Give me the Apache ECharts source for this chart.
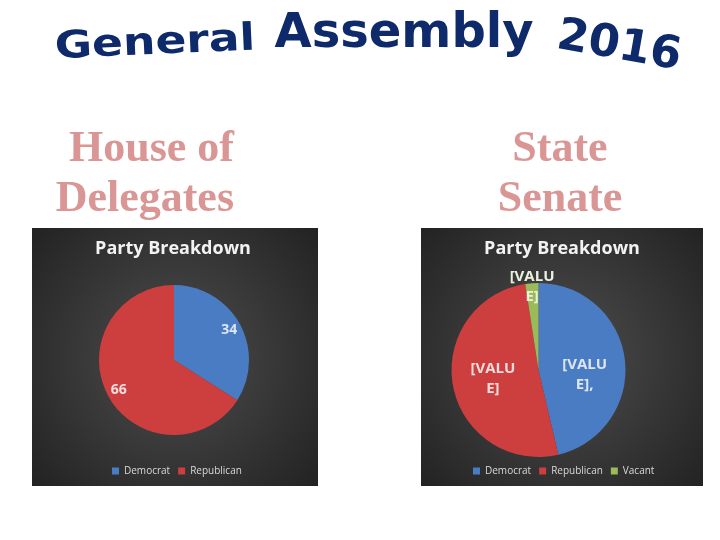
<!DOCTYPE html>
<html>
<head>
<meta charset="utf-8">
<script src="https://cdn.jsdelivr.net/npm/echarts@6/dist/echarts.min.js"></script>
<style>html,body{margin:0;padding:0;background:#fff}#c{width:720px;height:540px}</style>
</head>
<body>
<div id="c"></div>
<script>
// ---- data ----
const houseCategories = ['Democrat', 'Republican'];
const houseValues = [34, 66];
const senateCategories = ['Democrat', 'Republican', 'Vacant'];
const senateValues = [19, 21, 1];
const senateLabels = ['[VALU\nE],', '[VALU\nE]', '[VALU\nE]'];
const chartTitle = 'Party Breakdown';
const headingWords = ['General', 'Assembly', '2016'];
const houseHeading = ['House of', 'Delegates'];
const senateHeading = ['State', 'Senate'];

// ---- styles ----
const partyColors = { Democrat: '#4a7cc3', Republican: '#cd3e3e', Vacant: '#9bbb59' };
const labelColors = { Democrat: '#dce6f2', Republican: '#f2dcdb', Vacant: '#ebf1de' };
const labelLead = { Democrat: '\n', Republican: '', Vacant: '' };
const UI = 'Open Sans';

const chart = echarts.init(document.getElementById('c'), null, { renderer: 'canvas' });

function panelBg(x, y, w, h) {
  return {
    type: 'rect', z: -10, silent: true,
    shape: { x: x, y: y, width: w, height: h },
    style: {
      fill: { type: 'radial', x: 0.5, y: 0.5, r: 0.75,
        colorStops: [{ offset: 0, color: '#4e4e4e' }, { offset: 1, color: '#222222' }] }
    }
  };
}
function headingText(text, x, y, size, rot, sx) {
  return {
    type: 'text', x: x, y: y, rotation: rot * Math.PI / 180, scaleX: sx || 1, z: 10,
    style: {
      text: text, fill: '#0e2a6b', stroke: '#ffffff', lineWidth: 2,
      font: 'bold ' + size + 'px "DejaVu Sans"', align: 'center', verticalAlign: 'middle',
      shadowColor: 'rgba(120,120,120,0.9)', shadowOffsetX: 2, shadowOffsetY: 2, shadowBlur: 1
    }
  };
}
function subText(text, x, y, align) {
  return {
    type: 'text', x: x, y: y, z: 10,
    style: { text: text, fill: '#d99694', font: 'bold 44px "Liberation Serif"', align: align, verticalAlign: 'middle' }
  };
}

const houseData = houseCategories.map((n, i) => ({ name: n, value: houseValues[i], itemStyle: { color: partyColors[n] } }));
const houseLabelData = houseCategories.map((n, i) => ({
  name: n, value: houseValues[i], itemStyle: { color: 'rgba(0,0,0,0)' },
  label: { color: labelColors[n] }
}));
const senateData = senateCategories.map((n, i) => ({
  name: n, value: senateValues[i], itemStyle: { color: partyColors[n] },
  label: { show: n !== 'Vacant', color: labelColors[n], formatter: labelLead[n] + senateLabels[i] }
}));
const senateOuterLabelData = senateCategories.map((n, i) => ({
  name: n, value: senateValues[i], itemStyle: { color: 'rgba(0,0,0,0)' },
  label: { show: n === 'Vacant', color: labelColors[n], formatter: senateLabels[i] }
}));

const legendText = { color: '#d9d9d9', fontFamily: UI, fontSize: 10 };

const option = {
  backgroundColor: '#ffffff',
  animation: false,
  title: [
    { text: chartTitle, left: 168, top: 235, textAlign: 'center',
      textStyle: { color: '#f2f2f2', fontFamily: UI, fontWeight: 'bold', fontSize: 18 } },
    { text: chartTitle, left: 557, top: 235, textAlign: 'center',
      textStyle: { color: '#f2f2f2', fontFamily: UI, fontWeight: 'bold', fontSize: 18 } }
  ],
  legend: [
    { data: houseCategories, left: 107, top: 461, icon: 'rect', itemWidth: 7, itemHeight: 7, itemGap: 8,
      textStyle: legendText, selectedMode: false },
    { data: senateCategories, left: 468, top: 461, icon: 'rect', itemWidth: 7, itemHeight: 7, itemGap: 8,
      textStyle: legendText, selectedMode: false }
  ],
  graphic: [
    panelBg(32, 228, 286, 258),
    panelBg(421, 228, 282, 258),
    headingText(headingWords[0], 155, 44, 38, 2.5, 1.2),
    headingText(headingWords[1], 404, 35, 48, 0, 1),
    headingText(headingWords[2], 619, 47, 45, -10, 1),
    subText(houseHeading[0], 234, 150, 'right'),
    subText(houseHeading[1], 234, 200, 'right'),
    subText(senateHeading[0], 560, 150, 'center'),
    subText(senateHeading[1], 560, 200, 'center')
  ],
  series: [
    { type: 'pie', center: [174, 360], radius: [0, 75], startAngle: 90, clockwise: true,
      label: { show: false }, labelLine: { show: false }, data: houseData, z: 2 },
    { type: 'pie', center: [174, 360], radius: [45, 75], startAngle: 90, clockwise: true, silent: true,
      label: { show: true, position: 'inside', formatter: '{c}', fontFamily: UI, fontWeight: 'bold', fontSize: 14 },
      labelLine: { show: false }, data: houseLabelData, z: 3 },
    { type: 'pie', center: [538.5, 370], radius: [0, 87], startAngle: 90, clockwise: true,
      label: { position: 'inside', fontFamily: UI, fontWeight: 'bold', fontSize: 15, lineHeight: 20 },
      labelLine: { show: false }, data: senateData, z: 2 },
    { type: 'pie', center: [538.5, 370], radius: [75, 87], startAngle: 90, clockwise: true, silent: true,
      label: { position: 'inside', fontFamily: UI, fontWeight: 'bold', fontSize: 15, lineHeight: 20 },
      labelLine: { show: false }, data: senateOuterLabelData, z: 3 }
  ]
};
chart.setOption(option);
</script>
</body>
</html>
